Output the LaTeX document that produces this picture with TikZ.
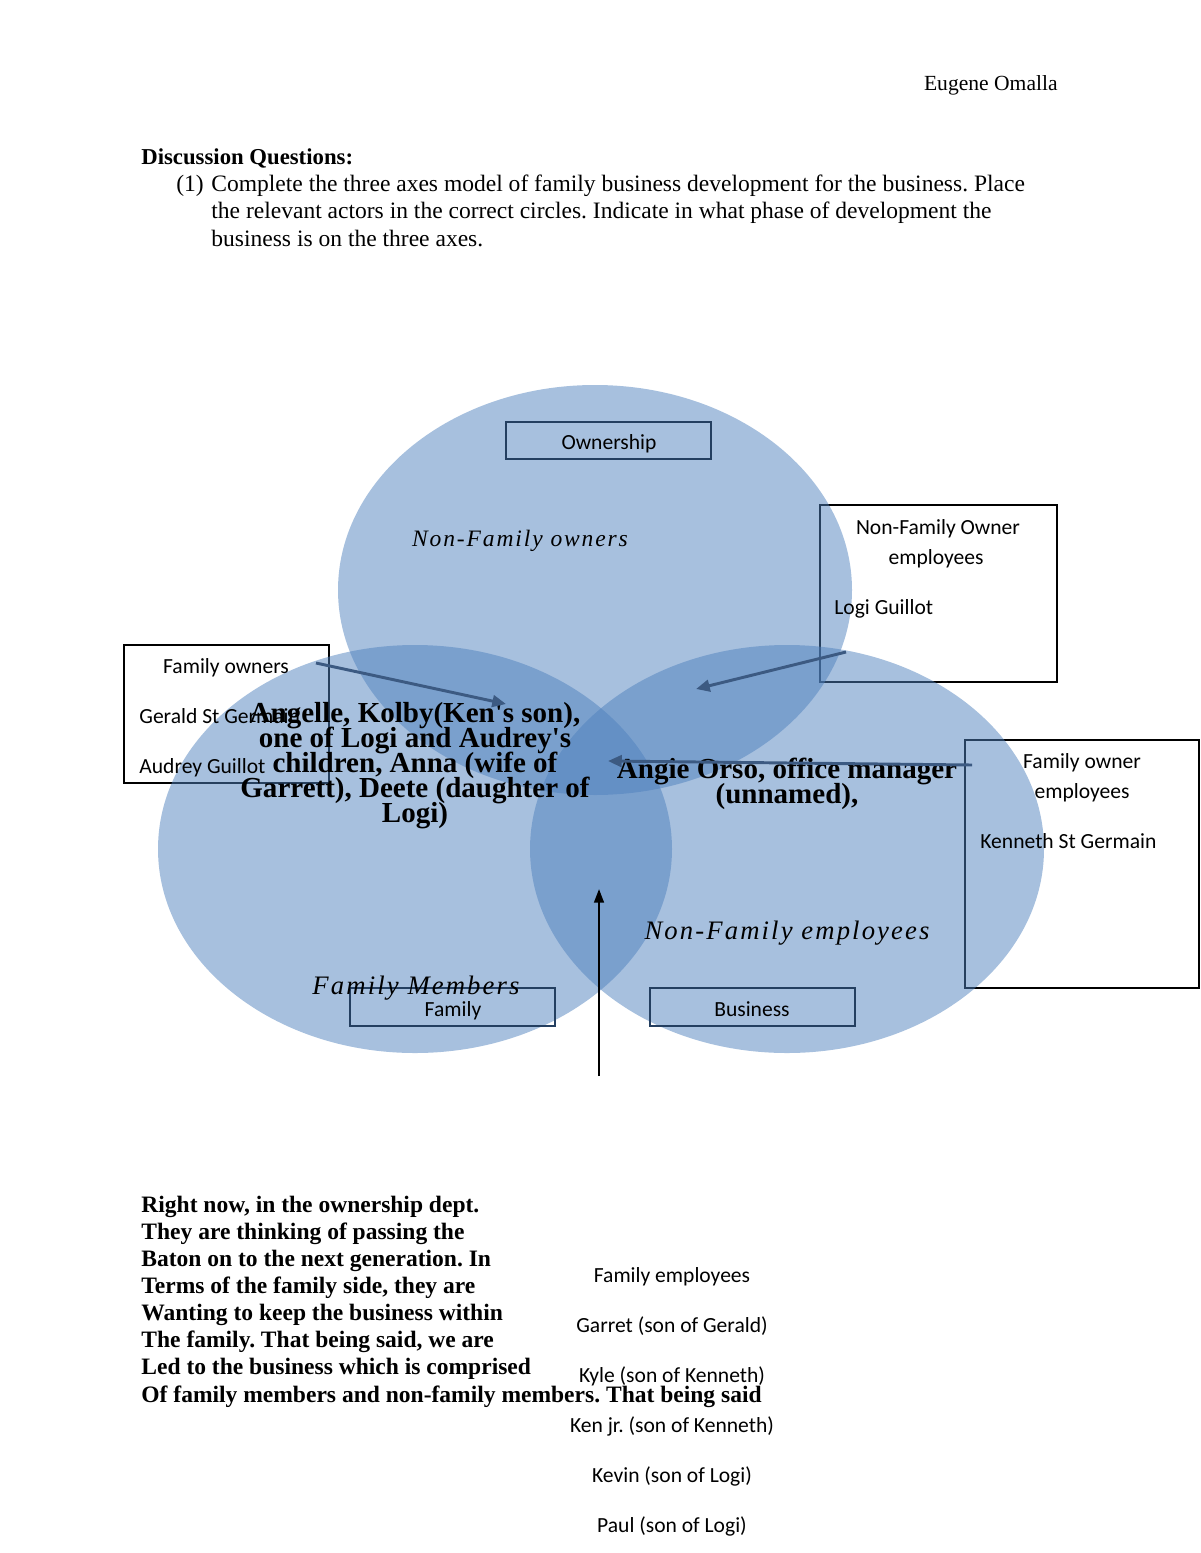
\documentclass[tikz,border=0pt]{standalone}
\usepackage{fontspec}
\setmainfont{Liberation Serif}
\newfontfamily\calibri{Carlito}
\newfontfamily\spaced[LetterSpace=8]{Liberation Serif}
\usetikzlibrary{arrows.meta,fit}
\definecolor{vennblue}{RGB}{79,129,189}
\definecolor{navy}{RGB}{36,63,96}
\definecolor{arrowblue}{RGB}{60,90,130}
\setlength{\lineskiplimit}{-30pt}
\frenchspacing
\begin{document}
\begin{tikzpicture}[x=0.51pt,y=-0.51pt,
  venn/.style={fill=vennblue,fill opacity=0.5},
  blackbox/.style={draw=black,line width=1.3pt,inner sep=0pt},
  navybox/.style={draw=navy,line width=1.3pt,inner sep=0pt},
  sanslbl/.style={font=\calibri\fontsize{11}{13}\selectfont,inner sep=0pt},
  itlbl/.style={font=\spaced\itshape\fontsize{13.6}{15}\selectfont,inner sep=0pt},
  bigbold/.style={font=\fontsize{14.8}{12.75}\selectfont\bfseries,align=center,inner sep=0pt},
  plain/.style={font=\fontsize{12}{13.8}\selectfont,inner sep=0pt},
  bluearrow/.style={draw=arrowblue,line width=1.5pt,-{Triangle[length=7pt,width=6pt]}},
  blackarrow/.style={draw=black,line width=1.1pt,-{Triangle[length=7pt,width=5pt]}},
]
\useasboundingbox (0,0) rectangle (1200,1553);

% header
\node[plain,anchor=base east,font=\fontsize{11}{13}\selectfont] (author) at (1058,91) {Eugene Omalla};
\node[plain,anchor=base west,font=\fontsize{11.6}{13.8}\selectfont\bfseries] (dq) at (141,165) {Discussion Questions:};
\node[plain,anchor=base west] (qnum) at (176,192) {(1)};
\node[plain,anchor=base west,align=left] (qtext) at (211,246) {Complete the three axes model of family business development for the business. Place\\the relevant actors in the correct circles. Indicate in what phase of development the\\business is on the three axes.};

% black boxes (under the circles)
\node[blackbox,fit={(820,505)(1057,682)}] (nfoebox) {};
\node[blackbox,fit={(124,645)(329,783)}] (fobox) {};
\node[blackbox,fit={(965,740)(1199,988)}] (foebox) {};

% circles
\fill[venn] (595,590) ellipse [x radius=257, y radius=205];
\fill[venn] (415,849) ellipse [x radius=257, y radius=204];
\fill[venn] (787,849) ellipse [x radius=257, y radius=204];

% navy boxes
\node[navybox,fit={(506,422)(711,459)}] (ownbox) {};
\node[navybox,fit={(350,988)(555,1026)}] (fambox) {};
\node[navybox,fit={(650,988)(855,1026)}] (busbox) {};
\node[sanslbl,anchor=base] (ownlbl) at (609,449) {Ownership};
\node[sanslbl,anchor=base] (famlbl) at (453,1016) {Family};
\node[sanslbl,anchor=base] (buslbl) at (752,1016) {Business};

% box texts
\node[sanslbl,anchor=base] (nfo1) at (938,534) {Non-Family Owner};
\node[sanslbl,anchor=base] (nfo2) at (936,564) {employees};
\node[sanslbl,anchor=base west] (logi) at (834,614) {Logi Guillot};
\node[sanslbl,anchor=base] (fo1) at (226,673) {Family owners};
\node[sanslbl,anchor=base west] (gerald) at (139,723) {Gerald St Germain};
\node[sanslbl,anchor=base west] (audrey) at (139,773) {Audrey Guillot};
\node[sanslbl,anchor=base] (foe1) at (1082,768) {Family owner};
\node[sanslbl,anchor=base] (foe2) at (1082,798) {employees};
\node[sanslbl,anchor=base west] (kenneth) at (980,848) {Kenneth St Germain};

% italic labels
\node[itlbl,anchor=base,font=\spaced\itshape\fontsize{12}{14}\selectfont] (nfown) at (520,546) {Non-Family owners};
\node[itlbl,anchor=base] (nfemp) at (787,939) {Non-Family employees};
\node[itlbl,anchor=base] (fmem) at (416,994) {Family Members};

% big bold texts
\node[bigbold,anchor=base] (members) at (415,822) {Angelle, Kolby(Ken\textquotesingle s son),\\one of Logi and Audrey\textquotesingle s\\children, Anna (wife of\\Garrett), Deete (daughter of\\Logi)};
\node[bigbold,anchor=base] (angie) at (787,803) {Angie Orso, office manager\\(unnamed),};

% arrows
\coordinate (a1s) at (316,663);
\coordinate (a1e) at (506,704);
\coordinate (a2s) at (846,652);
\coordinate (a2e) at (696,689);
\coordinate (a3s) at (972,765);
\coordinate (a3e) at (608,761);
\coordinate (a4s) at (599,1076);
\coordinate (a4e) at (599,889);
\draw[bluearrow] (a1s) -- (a1e);
\draw[bluearrow] (a2s) -- (a2e);
\draw[bluearrow] (a3s) -- (a3e);
\draw[blackarrow] (a4s) -- (a4e);

% bottom texts
\node[anchor=base west,align=left,inner sep=0pt,font=\fontsize{12}{13.8}\selectfont\bfseries] (para) at (141,1402) {Right now, in the ownership dept.\\They are thinking of passing the\\Baton on to the next generation. In\\Terms of the family side, they are\\Wanting to keep the business within\\The family. That being said, we are\\Led to the business which is comprised\\Of family members and non-family members. That being said};
\node[sanslbl,anchor=base,align=center,font=\calibri\fontsize{11}{25.4}\selectfont] (femp) at (672,1532) {Family employees\\Garret (son of Gerald)\\Kyle (son of Kenneth)\\Ken jr. (son of Kenneth)\\Kevin (son of Logi)\\Paul (son of Logi)};
\end{tikzpicture}
\end{document}
